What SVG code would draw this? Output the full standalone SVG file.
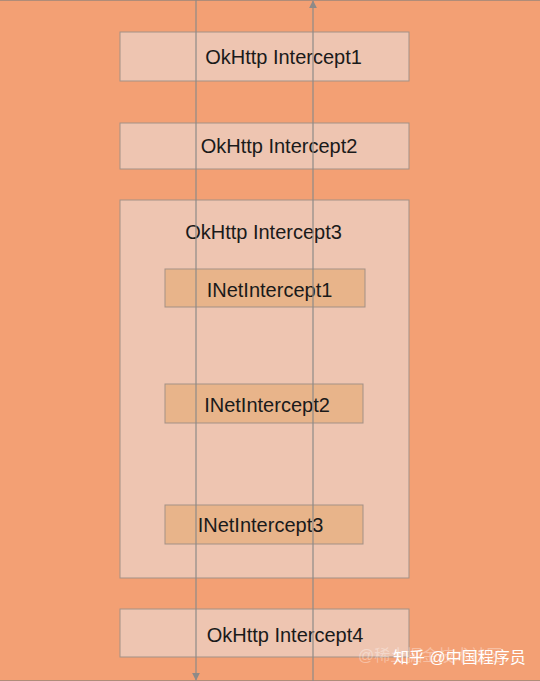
<svg xmlns="http://www.w3.org/2000/svg" width="540" height="681" viewBox="0 0 540 681">
<style>
.box{fill:#eec5b1;stroke:#a39186;stroke-width:1}
.inner{fill:#e8b48a;stroke:#a39186;stroke-width:1}
.t{font-family:"Liberation Sans",Arial,sans-serif;font-size:20px;fill:#1a1a1a;text-anchor:middle}
.line{stroke:#8e8a88;stroke-width:1.2;fill:none}
.wm{font-family:"Liberation Sans","Noto Sans CJK SC",sans-serif;font-size:16px}
</style>
<defs>
<marker id="ah" viewBox="0 0 10 10" refX="9" refY="5" markerWidth="8" markerHeight="8" orient="auto" markerUnits="userSpaceOnUse">
<path d="M0,0 L10,5 L0,10 z" fill="#8e8a88"/>
</marker>
</defs>
<rect x="0" y="0" width="540" height="681" fill="#f3a074"/>
<line x1="0" y1="0.5" x2="540" y2="0.5" stroke="#b08c78" stroke-width="1"/>
<line x1="0" y1="680.5" x2="540" y2="680.5" stroke="#b08c78" stroke-width="1"/>
<g id="intercept1"><rect class="box" x="120" y="32" width="289" height="49"/><text class="t" x="283.5" y="64">OkHttp Intercept1</text></g>
<g id="intercept2"><rect class="box" x="120" y="123" width="289" height="46"/><text class="t" x="279" y="153">OkHttp Intercept2</text></g>
<g id="intercept3"><rect class="box" x="120" y="200" width="289" height="378"/><text class="t" x="263.5" y="239">OkHttp Intercept3</text></g>
<g id="inet1"><rect class="inner" x="165" y="269" width="200" height="38"/><text class="t" x="269.5" y="297">INetIntercept1</text></g>
<g id="inet2"><rect class="inner" x="165" y="384" width="198" height="39"/><text class="t" x="267" y="412">INetIntercept2</text></g>
<g id="inet3"><rect class="inner" x="165" y="505" width="198" height="39"/><text class="t" x="260.5" y="532">INetIntercept3</text></g>
<g id="intercept4"><rect class="box" x="120" y="609" width="289" height="48"/><text class="t" x="285" y="642">OkHttp Intercept4</text></g>
<g id="connectors">
<line class="line" x1="196" y1="0" x2="196" y2="680" marker-end="url(#ah)"/>
<line class="line" x1="313" y1="681" x2="313" y2="1" marker-end="url(#ah)"/>
</g>
<text class="wm" x="358" y="661" fill="#ffffff" fill-opacity="0.35">@稀土掘金技术社区</text>
<text class="wm" x="393" y="663" fill="#ffffff">知乎 @中国程序员</text>
</svg>
